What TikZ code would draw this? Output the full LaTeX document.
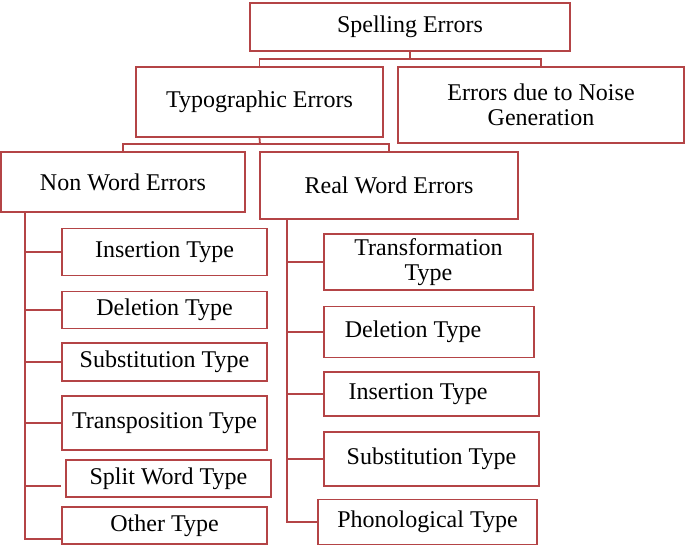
\documentclass[tikz,border=0pt]{standalone}
\usepackage{fontspec}
\setmainfont{Liberation Serif}
\definecolor{edge}{RGB}{180,68,70}
\begin{document}
\begin{tikzpicture}[x=1pt,y=-1pt,
  box/.style={draw=edge,line width=1.8pt,inner sep=0pt,align=center,
    font=\fontsize{24}{25}\selectfont},
  wire/.style={draw=edge,line width=1.8pt}]
\useasboundingbox (0,0) rectangle (685,546);
% top levels
\node[box,minimum width=320pt,minimum height=48pt] (se) at (410,27) {Spelling Errors};
\node[box,minimum width=247pt,minimum height=70pt] (te) at (259.5,102) {Typographic Errors};
\node[box,minimum width=286pt,minimum height=76pt] (ne) at (541,105) {Errors due to Noise\\Generation};
\node[box,minimum width=244pt,minimum height=60pt] (nw) at (123,182) {Non Word Errors};
\node[box,minimum width=258pt,minimum height=67pt] (rw) at (389,185.5) {Real Word Errors};
% non word children
\node[box,minimum width=205pt,minimum height=47pt] (l1) at (164.5,252) {Insertion Type};
\node[box,minimum width=205pt,minimum height=37pt] (l2) at (164.5,310) {Deletion Type};
\node[box,minimum width=205pt,minimum height=38pt] (l3) at (164.5,362) {Substitution Type};
\node[box,minimum width=205pt,minimum height=54pt] (l4) at (164.5,423) {Transposition Type};
\node[box,minimum width=205pt,minimum height=37pt] (l5) at (168.5,478.5) {Split Word Type};
\node[box,minimum width=205pt,minimum height=37pt] (l6) at (164.5,525.5) {Other Type};
% real word children
\node[box,minimum width=209pt,minimum height=56pt] (r1) at (428.5,262) {Transformation\\Type};
\node[box,minimum width=210pt,minimum height=51pt] (r2) at (429,332) {Deletion Type\hspace*{32pt}};
\node[box,minimum width=215pt,minimum height=44pt] (r3) at (431.5,394) {Insertion Type\hspace*{27pt}};
\node[box,minimum width=215pt,minimum height=54pt] (r4) at (431.5,459) {Substitution Type};
\node[box,minimum width=219pt,minimum height=45pt] (r5) at (427.5,522) {Phonological Type};
% junctions
\coordinate (j1) at (410,59);
\coordinate (j2) at (260,144);
\coordinate (tl) at (25,212);
\coordinate (tr) at (287,219);
% connectors
\draw[wire] (se.south) -- (j1);
\draw[wire] (te.north) |- (j1) -| (ne.north);
\draw[wire] (te.south) -- (j2);
\draw[wire] (nw.north) |- (j2) -| (rw.north);
\draw[wire] (tl) |- ([yshift=-13.5pt]l6.west);
\draw[wire] (l1.west) -- (l1.west -| tl);
\draw[wire] (l2.west) -- (l2.west -| tl);
\draw[wire] (l3.west) -- (l3.west -| tl);
\draw[wire] (l4.west) -- (l4.west -| tl);
\draw[wire] ([xshift=-4pt,yshift=-7.5pt]l5.west) -- ([yshift=-7.5pt]l5.west -| tl);
\draw[wire] (tr) |- (r5.west);
\draw[wire] (r1.west) -- (r1.west -| tr);
\draw[wire] (r2.west) -- (r2.west -| tr);
\draw[wire] (r3.west) -- (r3.west -| tr);
\draw[wire] (r4.west) -- (r4.west -| tr);
\end{tikzpicture}
\end{document}
